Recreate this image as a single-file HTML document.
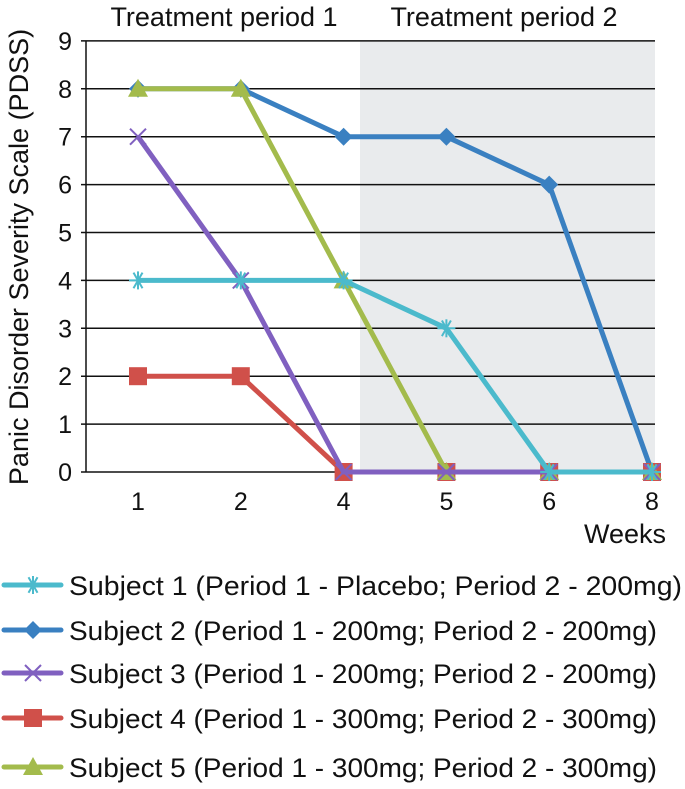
<!DOCTYPE html>
<html><head><meta charset="utf-8"><style>
body{margin:0;background:#fff;}
svg{display:block;font-family:"Liberation Sans",Arial,sans-serif;}
</style></head><body>
<svg id="c" width="685" height="789"></svg>
<script>
const categories=["1","2","4","5","6","8"];
const yTicks=[0,1,2,3,4,5,6,7,8,9];
const s1=[4,4,4,3,0,0];
const s2=[8,8,7,7,6,0];
const s3=[7,4,0,0,0,0];
const s4=[2,2,0,0,0,0];
const s5=[8,8,4,0,0,0];
const names=["Subject 1 (Period 1 - Placebo; Period 2 - 200mg)","Subject 2 (Period 1 - 200mg; Period 2 - 200mg)","Subject 3 (Period 1 - 200mg; Period 2 - 200mg)","Subject 4 (Period 1 - 300mg; Period 2 - 300mg)","Subject 5 (Period 1 - 300mg; Period 2 - 300mg)"];
const NS="http://www.w3.org/2000/svg";
const svg=document.getElementById('c');
function el(t,a,p){const e=document.createElementNS(NS,t);for(const k in a)e.setAttribute(k,a[k]);(p||svg).appendChild(e);return e;}
const left=86,right=655,y0=472,unit=47.9;
const xs=i=>138+i*102.8;
const ys=v=>y0-v*unit;
let g=el('rect',{x:360,y:ys(9),width:right-360,height:ys(0)-ys(9),fill:'#e9ebed'});


yTicks.forEach(v=>{
 const l=el('line',{x1:left-5,x2:right,y1:ys(v),y2:ys(v),stroke:'#111','stroke-width':1.5});
 
 
 const t=el('text',{x:72,y:ys(v)+9,'text-anchor':'end','font-size':25,fill:'#111'});t.textContent=v;
 
 
});
const ax=el('line',{x1:left,x2:left,y1:ys(9),y2:ys(0),stroke:'#111','stroke-width':1.5});


categories.forEach((c,i)=>{
 const t=el('text',{x:xs(i),y:510,'text-anchor':'middle','font-size':25,fill:'#111'});t.textContent=c;
 
 
});
let t=el('text',{x:666,y:543,'text-anchor':'end','font-size':27,fill:'#111'});t.textContent='Weeks';


t=el('text',{x:224,y:26,'text-anchor':'middle','font-size':27,fill:'#111'});t.textContent='Treatment period 1';


t=el('text',{x:504,y:26,'text-anchor':'middle','font-size':27,fill:'#111'});t.textContent='Treatment period 2';


t=el('text',{x:0,y:0,'text-anchor':'middle','font-size':27,fill:'#111',transform:'translate(28,257) rotate(-90)'});t.textContent='Panic Disorder Severity Scale (PDSS)';


const colors=['#4bbacc','#3a80c1','#8060c0','#d0504a','#a3bb4c'];
const markers=['star','diamond','x','square','triangle'];
function marker(type,x,y,c,p){
 if(type==='star'){for(const a of [0,60,120]){const r=a*Math.PI/180;el('line',{x1:x-9*Math.cos(r),y1:y-9*Math.sin(r),x2:x+9*Math.cos(r),y2:y+9*Math.sin(r),stroke:c,'stroke-width':2},p);}el('line',{x1:x,y1:y-9,x2:x,y2:y+9,stroke:c,'stroke-width':2},p);}
 else if(type==='diamond')el('polygon',{points:`${x},${y-9} ${x+9},${y} ${x},${y+9} ${x-9},${y}`,fill:c},p);
 else if(type==='x'){el('line',{x1:x-8,y1:y-8,x2:x+8,y2:y+8,stroke:c,'stroke-width':2},p);el('line',{x1:x-8,y1:y+8,x2:x+8,y2:y-8,stroke:c,'stroke-width':2},p);}
 else if(type==='square')el('rect',{x:x-9,y:y-9,width:18,height:18,fill:c},p);
 else el('polygon',{points:`${x},${y-10} ${x+10},${y+8} ${x-10},${y+8}`,fill:c},p);
}
const order=[1,3,4,2,0];
const all=[s1,s2,s3,s4,s5];
order.forEach(k=>{
 const s=all[k];
 const gr=el('g',{});
 
 
 el('polyline',{points:s.map((v,i)=>xs(i)+','+ys(v)).join(' '),fill:'none',stroke:colors[k],'stroke-width':5,'stroke-linejoin':'round'},gr);
 s.forEach((v,i)=>marker(markers[k],xs(i),ys(v),colors[k],gr));
});
const ly=[585,630,673,718,767];
const lw=[613,588,588,588,588];
names.forEach((n,k)=>{
 const gr=el('g',{});
 
 
 el('line',{x1:4,x2:61,y1:ly[k],y2:ly[k],stroke:colors[k],'stroke-width':5,'stroke-linecap':'round'},gr);
 marker(markers[k],33,ly[k],colors[k],gr);
 const tt=el('text',{x:69,y:ly[k]+10,'font-size':27,fill:'#111',textLength:lw[k],lengthAdjust:'spacingAndGlyphs'},gr);tt.textContent=n;
});
</script>
</body></html>
